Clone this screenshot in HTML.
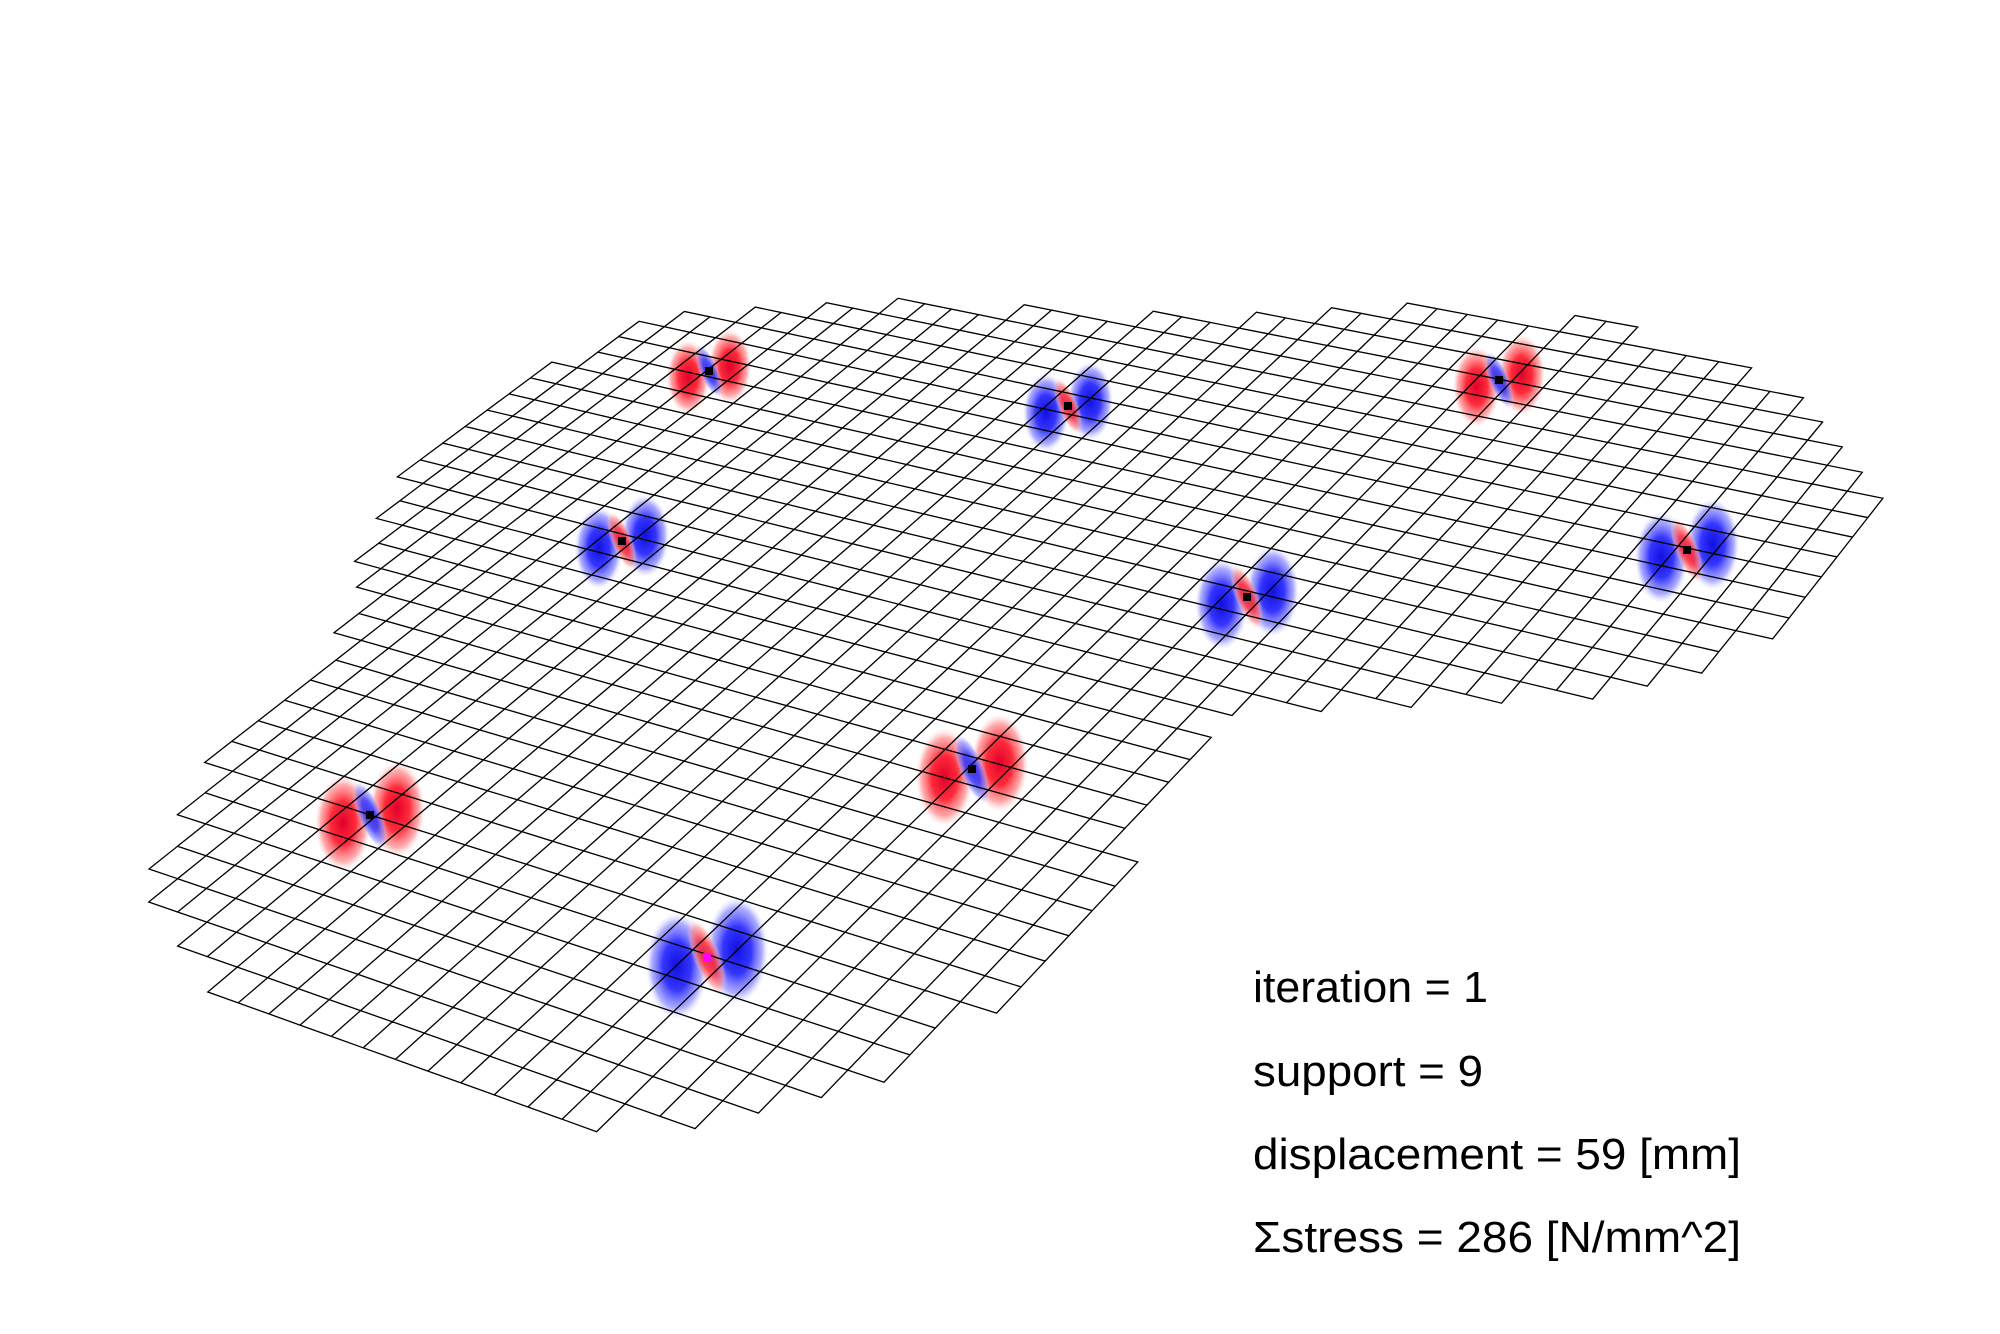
<!DOCTYPE html>
<html><head><meta charset="utf-8">
<style>
html,body{margin:0;padding:0;background:#fff;}
svg{display:block;}
text{font-family:"Liberation Sans",Arial,sans-serif;font-size:44px;fill:#000;}
</style></head>
<body>
<svg id="s" width="2000" height="1334" viewBox="0 0 2000 1334" xmlns="http://www.w3.org/2000/svg">
<defs>
<radialGradient id="gr"><stop offset="0" stop-color="#e0002a"/><stop offset="0.45" stop-color="#ff1f2f" stop-opacity="0.95"/><stop offset="0.8" stop-color="#ff8a8a" stop-opacity="0.7"/><stop offset="1" stop-color="#ffd8d8" stop-opacity="0"/></radialGradient>
<radialGradient id="gb"><stop offset="0" stop-color="#1010e0"/><stop offset="0.45" stop-color="#2a2aff" stop-opacity="0.95"/><stop offset="0.8" stop-color="#8a8aff" stop-opacity="0.7"/><stop offset="1" stop-color="#d8d8ff" stop-opacity="0"/></radialGradient>
</defs>
<g id="blobs"></g>
<path id="mesh" fill="none" stroke="#000" stroke-width="1.3" d=""/>
<g id="marks"></g>
<text x="1253" y="1002" textLength="235" lengthAdjust="spacingAndGlyphs">iteration = 1</text>
<text x="1253" y="1086" textLength="230" lengthAdjust="spacingAndGlyphs">support = 9</text>
<text x="1253" y="1169" textLength="488" lengthAdjust="spacingAndGlyphs">displacement = 59 [mm]</text>
<text x="1253" y="1252" textLength="488" lengthAdjust="spacingAndGlyphs">Σstress = 286 [N/mm^2]</text>
</svg>
<script>
(function(){
var lam=-0.005376, mu=0.007453;
var H=[[27.60,29.81,149],[4.984,-16.40,869],[lam,mu,1]];
function P(a,b){var w=H[2][0]*a+H[2][1]*b+1;return [(H[0][0]*a+H[0][1]*b+H[0][2])/w,(H[1][0]*a+H[1][1]*b+H[1][2])/w];}
var poly=[[149,872],[148,902],[176,948],[203,996],[580,1131],[679,1123],[774,1117],[834,1101],[917,1058],[998,1013],[1084,919],[1143,843],[1205,728],[1255,715],[1337,710],[1418,705],[1502,702],[1581,695],[1626,683],[1674,672],[1719,660],[1734,642],[1777,630],[1875,495],[1856,473],[1838,452],[1820,432],[1803,410],[1788,390],[1717,360],[1607,323],[1451,303],[1384,305],[1320,307],[1254,309],[1212,316],[1110,315],[944,302],[851,298],[807,305],[741,306],[699,313],[656,320],[592,341],[551,368],[507,397],[465,427],[442,443],[399,473],[378,514],[357,556],[358,582],[336,628],[311,677],[208,759],[179,813]];
function inside(x,y){var c=false;for(var i=0,j=poly.length-1;i<poly.length;j=i++){var xi=poly[i][0],yi=poly[i][1],xj=poly[j][0],yj=poly[j][1];if(((yi>y)!=(yj>y))&&(x<(xj-xi)*(y-yi)/(yj-yi)+xi))c=!c;}return c;}
var d=[];
var t=0.25;
for(var a=-15;a<50;a++){for(var b=-15;b<50;b++){
 var w=H[2][0]*(a+.5)+H[2][1]*(b+.5)+1; if(w<=0.2)continue;
 var ok=true;
 var pts=[[.5,.5],[t,t],[1-t,t],[1-t,1-t],[t,1-t]];
 for(var k=0;k<pts.length;k++){var c=P(a+pts[k][0],b+pts[k][1]);if(!inside(c[0],c[1])){ok=false;break;}}
 if(!ok)continue;
 var p1=P(a,b),p2=P(a+1,b),p3=P(a+1,b+1),p4=P(a,b+1);
 d.push('M'+p1[0].toFixed(1)+' '+p1[1].toFixed(1)+'L'+p2[0].toFixed(1)+' '+p2[1].toFixed(1)+'L'+p3[0].toFixed(1)+' '+p3[1].toFixed(1)+'L'+p4[0].toFixed(1)+' '+p4[1].toFixed(1)+'Z');
}}
document.getElementById('mesh').setAttribute('d',d.join(''));
function inv(m){var a=m[0][0],b=m[0][1],c=m[0][2],d=m[1][0],e=m[1][1],f=m[1][2],g=m[2][0],h=m[2][1],i=m[2][2];
 var A=e*i-f*h,B=-(d*i-f*g),C=d*h-e*g,D=-(b*i-c*h),E=a*i-c*g,F=-(a*h-b*g),G=b*f-c*e,Hh=-(a*f-c*d),I=a*e-b*d;var det=a*A+b*B+c*C;
 return [[A/det,D/det,G/det],[B/det,E/det,Hh/det],[C/det,F/det,I/det]];}
var Hi=inv(H);
function Q(x,y){var w=Hi[2][0]*x+Hi[2][1]*y+Hi[2][2];return [(Hi[0][0]*x+Hi[0][1]*y+Hi[0][2])/w,(Hi[1][0]*x+Hi[1][1]*y+Hi[1][2])/w];}
function jdet(x,y){var q=Q(x,y),p=P(q[0],q[1]),pa=P(q[0]+.01,q[1]),pb=P(q[0],q[1]+.01);
 var ux=(pa[0]-p[0])/.01,uy=(pa[1]-p[1])/.01,vx=(pb[0]-p[0])/.01,vy=(pb[1]-p[1])/.01;return Math.abs(ux*vy-uy*vx);}
var sup=[[709,371,1],[1068,406,-1],[1499,380,1],[622,541,-1],[1247,597,-1],[1687,550,-1],[370,815,1],[972,769,1],[707,957,-1]];
var ref=jdet(370,815);
var g='',m='';
sup.forEach(function(s,k){
 var sc=Math.sqrt(jdet(s[0],s[1])/ref);
 var lobe=s[2]>0?'url(#gr)':'url(#gb)', mid=s[2]>0?'url(#gb)':'url(#gr)';
 g+='<g transform="translate('+s[0]+' '+s[1]+') scale('+sc.toFixed(3)+')">'+
  '<ellipse cx="-27" cy="8" rx="28" ry="48" fill="'+lobe+'"/>'+
  '<ellipse cx="27" cy="-6" rx="28" ry="48" fill="'+lobe+'"/>'+
  '<ellipse cx="0" cy="0" rx="12" ry="36" transform="rotate(-22)" fill="'+mid+'" opacity="0.85"/>'+
  '</g>';
 m+='<rect x="'+(s[0]-4)+'" y="'+(s[1]-4)+'" width="8" height="8" fill="'+(k==8?'#ff00ff':'#000')+'"/>';
});
document.getElementById('blobs').innerHTML=g;
document.getElementById('marks').innerHTML=m;
})();
</script>
</body></html>
